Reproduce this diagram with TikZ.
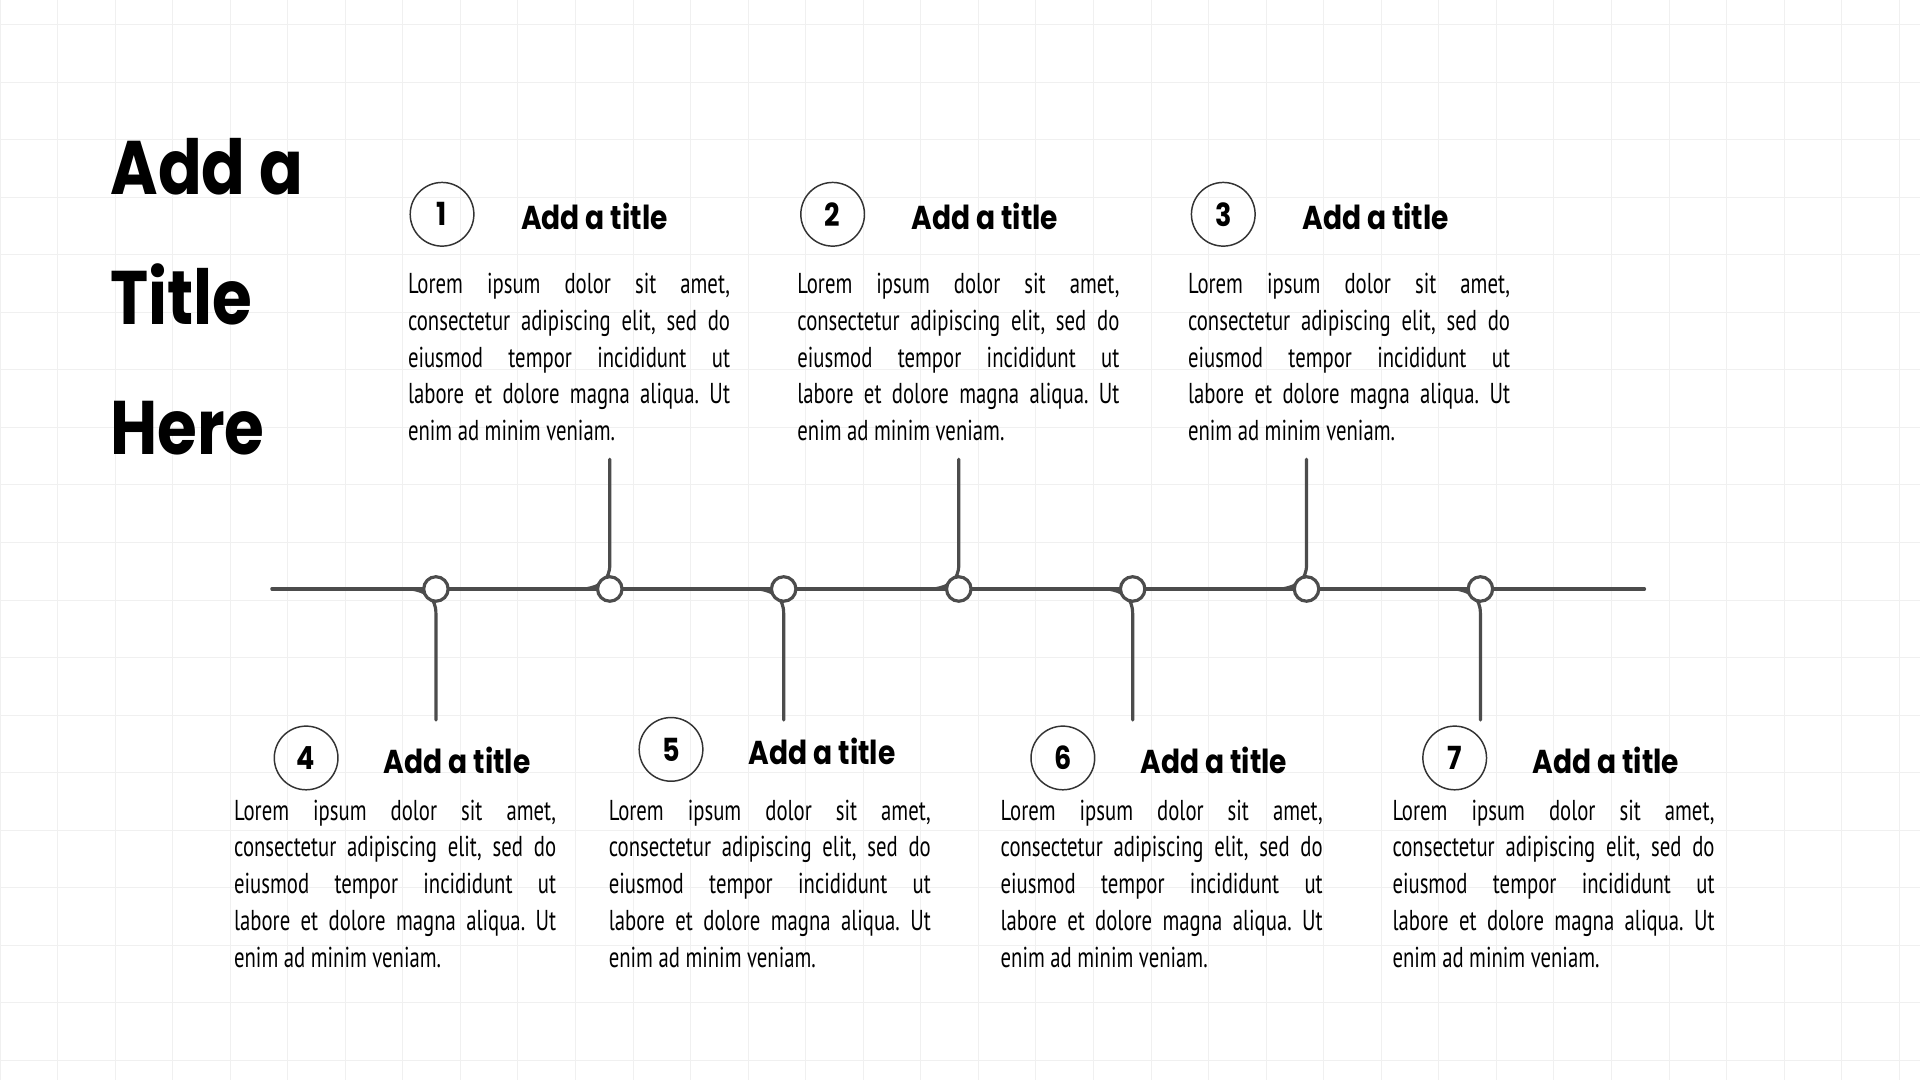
\documentclass[tikz,border=0pt]{standalone}
\usepackage{fontspec}
\setmainfont{PT Sans}[FakeStretch=0.72]
\newfontfamily\titlefont{Poppins}[FakeStretch=0.85]
\newcommand\nohyph{\hyphenpenalty=10000 \exhyphenpenalty=10000 \lefthyphenmin=62 \righthyphenmin=62 \hbadness=10000 }
\begin{document}
\frenchspacing\nohyph
\begin{tikzpicture}[x=1pt,y=-1pt,
  line/.style={draw=black!70,line width=2.6pt,line cap=round},
  dot/.style={circle,draw=black!70,line width=2.6pt,fill=white,minimum size=20pt,inner sep=0pt},
  num/.style={circle,draw=black!80,line width=1.2pt,minimum size=52pt,inner sep=0pt,font=\titlefont\fontsize{26}{26}\selectfont\bfseries},
  ttl/.style={anchor=west,font=\titlefont\fontsize{27}{27}\selectfont\bfseries},
  body/.style={anchor=north west,text width=263pt,align=justify,inner sep=0pt,font=\fontsize{23.5}{30}\selectfont\nohyph}]
\useasboundingbox (0,0) rectangle (1568,882);
\fill[white] (0,0) rectangle (1568,882);
\foreach \i in {0,...,34}{\draw[black!6,line width=0.8pt] (\i*47,0) -- (\i*47,882);}
\foreach \i in {0,...,19}{\draw[black!6,line width=0.8pt] (0,20+\i*47) -- (1568,20+\i*47);}
\node[anchor=north west,align=left,inner sep=0pt,font=\titlefont\fontsize{62}{106}\selectfont\bfseries] (T) at (90,113) {Add a\\Title\\Here};
% timeline
\coordinate (L) at (222,481); \coordinate (R) at (1343,481);
\draw[line] (L) -- (R);
\foreach \x in {498,783,1067}{
  \draw[line] (\x,375) -- (\x,461) .. controls (\x,474) and (\x-8,479) .. (\x-20,481);}
\foreach \x in {356,640,925,1209}{
  \draw[line] (\x-20,481) .. controls (\x-8,483) and (\x,488) .. (\x,501) -- (\x,588);}
\foreach \n/\x in {c1/356,c2/498,c3/640,c4/783,c5/925,c6/1067,c7/1209}{\node[dot] (\n) at (\x,481) {};}
% blocks
\def\lorem{\nohyph Lorem ipsum dolor sit amet,\linebreak consectetur adipiscing elit, sed do\linebreak eiusmod tempor incididunt ut\linebreak labore et dolore magna aliqua. Ut\linebreak enim ad minim veniam.}
\foreach \k/\nx/\ny/\tx/\bx/\by in {1/361/175/422/333/223,2/680/175/741/651/223,3/999/175/1060/970/223,4/250/619/310/191/653,5/548/612/608/497/653,6/868/619/928/817/653,7/1188/619/1248/1137/653}{
  \node[num] (n\k) at (\nx,\ny) {\k};
  \node[ttl] (t\k) at (\tx,\ny+2) {Add a title};
  \node[body] (b\k) at (\bx,\by) {\lorem};}
\end{tikzpicture}
\end{document}
